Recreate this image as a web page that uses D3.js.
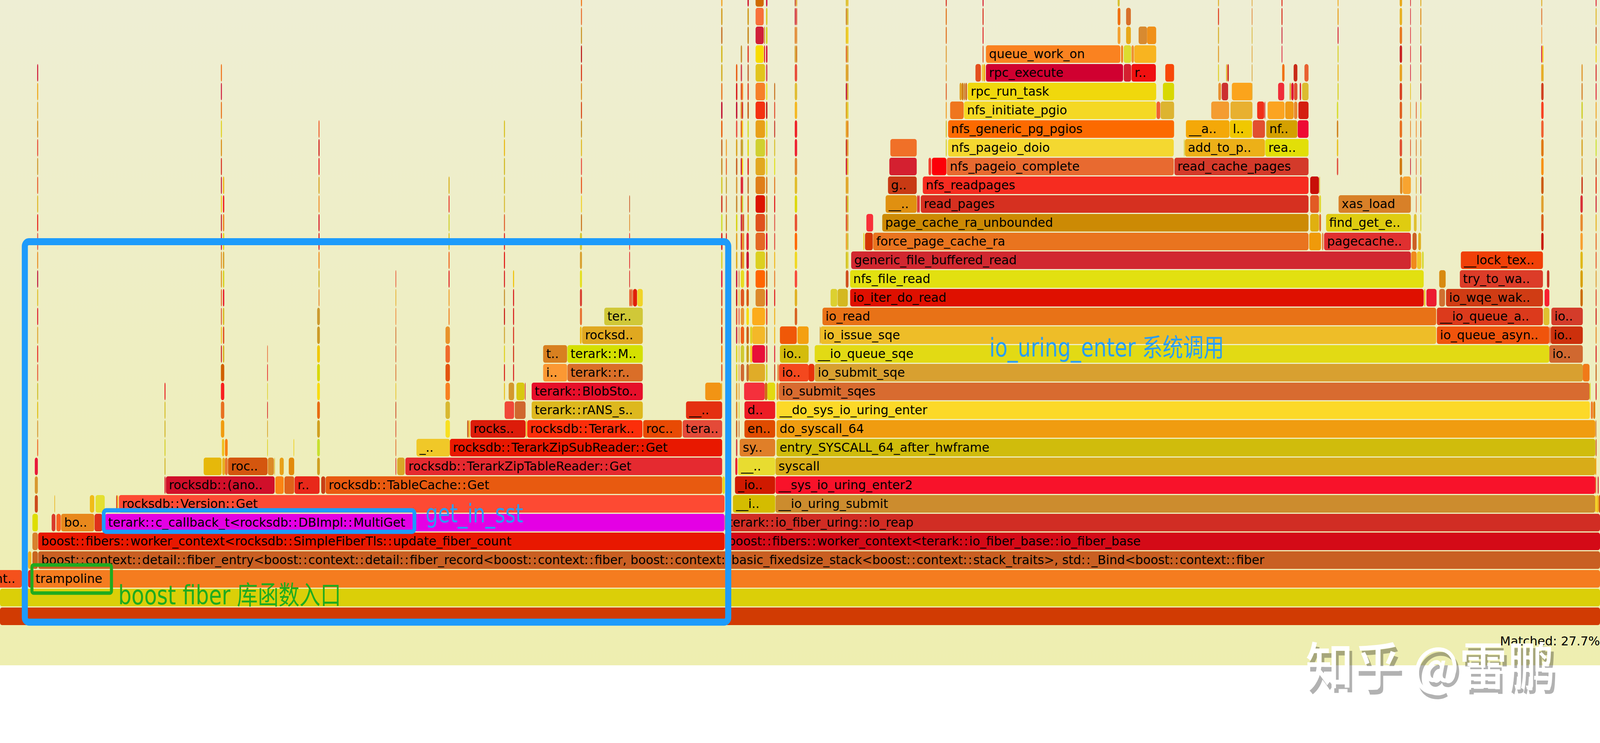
<!DOCTYPE html>
<html>
<head>
<meta charset="utf-8">
<title>flame graph</title>
<script src="https://cdn.jsdelivr.net/npm/d3@7"></script>
<style>
  html, body { margin: 0; padding: 0; background: #fff; overflow: hidden; }
  svg { display: block; width: 100vw; height: 100vh; }
  .frame-label { font-family: "DejaVu Sans"; font-size: 32px; fill: #000; }
</style>
</head>
<body>
<div id="chart"></div>
<script>
// Flame graph frames, one line per stack depth (0 is the bottom row).
// Values are sample offsets inside the zoomed window of 4737 samples.
const frameStart = [
  [0],
  [0],
  [-24, 83, 96],
  [83, 96, 113],
  [96, 113, 2146],
  [96, 153, 167, 181, 280, 311, 2146],
  [103, 161, 266, 283, 344, 347, 352, 2170, 2296, 4723, 4727, 4733],
  [103, 487, 491, 815, 842, 872, 951, 964, 2139, 2176, 2296, 4723, 4730],
  [103, 603, 658, 666, 675, 793, 812, 828, 855, 1176, 1200, 2177, 2185, 2296, 4723],
  [657, 666, 869, 1233, 1332, 2190, 2299, 4724],
  [654, 1383, 1387, 1393, 1557, 1561, 1904, 2021, 2204, 2299, 4724],
  [654, 1494, 1524, 1574, 2031, 2204, 2299, 4710, 4717],
  [654, 1506, 1529, 1554, 1574, 2088, 2135, 2203, 2264, 2272, 2299, 2306, 4706],
  [654, 1608, 1680, 2217, 2302, 2306, 2394, 2412, 4686],
  [1608, 1680, 2221, 2227, 2309, 2412, 4587],
  [1717, 1723, 2221, 2227, 2309, 2361, 2427, 2429, 4254, 4588, 4591],
  [1789, 2227, 2435, 4254, 4570, 4593],
  [1863, 1868, 1874, 1887, 2459, 2480, 2517, 4216, 4223, 4261, 4281, 4573],
  [2504, 2517, 4261, 4322, 4580],
  [2520, 4178, 4195, 4210, 4325],
  [2556, 2561, 2585, 3876, 3914, 3920, 4182, 4199],
  [2565, 2612, 3879, 3906, 3926, 4186],
  [2622, 2715, 2719, 2726, 3879, 3906, 3963],
  [2629, 2732, 3879, 3906, 4145, 4153],
  [2633, 2749, 2759, 2803, 3477],
  [2636, 2807, 3505, 3508, 3746],
  [2807, 3511, 3641, 3709, 3749, 3842],
  [2813, 2854, 3424, 3436, 3586, 3643, 3722, 3744, 3753, 3805, 3831, 3844],
  [2841, 2847, 2854, 2858, 2865, 3443, 3607, 3617, 3647, 3784, 3818, 3823, 3831, 3848, 3855],
  [2888, 2907, 2911, 2919, 3327, 3350, 3450, 3630, 3634, 3796, 3830, 3862],
  [2919, 3319, 3327, 3350, 3358],
  [3309, 3334, 3371, 3396],
  [3309, 3334],
  [3309]
];

const frameEnd = [
  [4737],
  [4737],
  [65, 95, 4737],
  [93, 112, 4737],
  [112, 2145, 4737],
  [112, 164, 180, 279, 303, 2145, 4737],
  [112, 163, 279, 310, 347, 350, 2145, 2295, 4723, 4727, 4733, 4740],
  [112, 490, 813, 840, 871, 946, 963, 2138, 2146, 2295, 4723, 4726, 4733],
  [112, 656, 666, 674, 792, 811, 814, 840, 871, 1198, 2138, 2183, 2295, 4723, 4726],
  [664, 674, 871, 1332, 2138, 2295, 4723, 4727],
  [664, 1387, 1391, 1556, 1560, 1902, 2019, 2138, 2295, 4723, 4726],
  [664, 1522, 1556, 1903, 2138, 2295, 4707, 4716, 4723],
  [664, 1522, 1553, 1556, 1903, 2135, 2138, 2264, 2272, 2295, 2305, 4706, 4709],
  [664, 1679, 1903, 2265, 2305, 2394, 2411, 4686, 4706],
  [1679, 1903, 2227, 2265, 2394, 4587, 4686],
  [1722, 1903, 2227, 2265, 2359, 2394, 2429, 4252, 4587, 4590, 4686],
  [1903, 2265, 4252, 4568, 4587, 4686],
  [1868, 1873, 1886, 1903, 2479, 2510, 4215, 4220, 4253, 4278, 4568, 4587],
  [2512, 4215, 4280, 4568, 4587],
  [4177, 4194, 4208, 4215, 4568],
  [2559, 2584, 3874, 3911, 3918, 4177, 4194, 4207],
  [2585, 3874, 3905, 3911, 4177, 4194],
  [2714, 2719, 2723, 3874, 3905, 3911, 4177],
  [2714, 3874, 3905, 3908, 4152, 4177],
  [2714, 2757, 2802, 3475, 3874],
  [2714, 3475, 3507, 3745, 3874],
  [3476, 3640, 3707, 3745, 3841, 3874],
  [2853, 3423, 3435, 3476, 3639, 3708, 3743, 3746, 3803, 3830, 3841, 3874],
  [2847, 2853, 2857, 2863, 3423, 3476, 3615, 3636, 3708, 3802, 3822, 3830, 3841, 3852, 3874],
  [2904, 2910, 2917, 3325, 3349, 3422, 3476, 3633, 3638, 3803, 3841, 3874],
  [3317, 3325, 3349, 3357, 3423],
  [3317, 3348, 3396, 3423],
  [3317, 3348],
  [3315]
];

const contextLabel = 'boost::context::detail::fiber_entry<boost::context::detail::fiber_record<boost::context::fiber, boost::context::basic_fixedsize_stack<boost::context::stack_traits>, std::_Bind<boost::context::fiber';

const frameLabel = [
  [''],
  [''],
  ['nt..', '', 'trampoline'],
  ['', '', contextLabel],
  ['', 'boost::fibers::worker_context<rocksdb::SimpleFiberTls::update_fiber_count', 'boost::fibers::worker_context<terark::io_fiber_base::io_fiber_base'],
  ['', '', '', 'bo..', '', 'terark::c_callback_t<rocksdb::DBImpl::MultiGet', 'terark::io_fiber_uring::io_reap'],
  ['', '', '', '', '', '', 'rocksdb::Version::Get', '__i..', '__io_uring_submit', '', '', ''],
  ['', '', 'rocksdb::(ano..', '', '', 'r..', '', 'rocksdb::TableCache::Get', '', '_io..', '__sys_io_uring_enter2', '', ''],
  ['', '', '', '', 'roc..', '', '', '', '', '', 'rocksdb::TerarkZipTableReader::Get', '', '__..', 'syscall', ''],
  ['', '', '', '_..', 'rocksdb::TerarkZipSubReader::Get', 'sy..', 'entry_SYSCALL_64_after_hwframe', ''],
  ['', '', '', 'rocks..', '', 'rocksdb::Terark..', 'roc..', 'tera..', 'en..', 'do_syscall_64', ''],
  ['', '', '', 'terark::rANS_s..', '__..', 'd..', '__do_sys_io_uring_enter', '', ''],
  ['', '', '', '', 'terark::BlobSto..', '', '', '', '', '', '', 'io_submit_sqes', ''],
  ['', 'i..', 'terark::r..', '', '', 'io..', '', 'io_submit_sqe', ''],
  ['t..', 'terark::M..', '', '', 'io..', '__io_queue_sqe', 'io..'],
  ['', 'rocksd..', '', '', '', '', '', 'io_issue_sqe', 'io_queue_asyn..', '', 'io..'],
  ['ter..', '', 'io_read', '__io_queue_a..', '', 'io..'],
  ['', '', '', '', '', '', 'io_iter_do_read', '', '', '', 'io_wqe_wak..', ''],
  ['', 'nfs_file_read', '', 'try_to_wa..', ''],
  ['generic_file_buffered_read', '', '', '', '__lock_tex..'],
  ['', '', 'force_page_cache_ra', '', '', 'pagecache..', '', ''],
  ['', 'page_cache_ra_unbounded', '', '', 'find_get_e..', ''],
  ['__..', '', '', 'read_pages', '', '', 'xas_load'],
  ['g..', 'nfs_readpages', '', '', '', ''],
  ['', '', '', 'nfs_pageio_complete', 'read_cache_pages'],
  ['', 'nfs_pageio_doio', '', 'add_to_p..', 'rea..'],
  ['nfs_generic_pg_pgios', '__a..', 'l..', '', 'nf..', ''],
  ['', 'nfs_initiate_pgio', '', '', '', '', '', '', '', '', '', ''],
  ['', '', '', '', 'rpc_run_task', '', '', '', '', '', '', '', '', '', ''],
  ['', '', '', 'rpc_execute', '', 'r..', '', '', '', '', '', ''],
  ['queue_work_on', '', '', '', ''],
  ['', '', '', ''],
  ['', ''],
  ['']
];

// Frame colours, same shape as the lists above
const frameFill = [
  ['#d13b03'],
  ['#dbcf08'],
  ['#f4511c', '#dd2a1e', '#f57c1f'],
  ['#f0b020', '#c8651e', '#c95f22'],
  ['#d8812e', '#e81800', '#d40a17'],
  ['#dede00', '#d8392a', '#f86020', '#e8881c', '#e0301a', '#e400e4', '#d12d24'],
  ['#cd4a1a', '#eab82a', '#f0bc18', '#e4e030', '#d84020', '#f0c020', '#fd4a33', '#d4bc00', '#cc8c2e', '#f8d820', '#f0c020', '#d06010'],
  ['#d8982f', '#e02030', '#d00f2a', '#fb8414', '#e0621a', '#e8281a', '#c83f16', '#e85a10', '#e8d820', '#d01a00', '#f8122a', '#e07030', '#d02030'],
  ['#e8183a', '#e6b80a', '#e8b020', '#e87830', '#d4560e', '#dc8a26', '#e0c030', '#e8a018', '#e28a0a', '#d8a828', '#e52a30', '#e8202a', '#e8dc30', '#d8ac18', '#f09c10'],
  ['#f0c020', '#f88010', '#f0d020', '#f0c828', '#e81800', '#e07f28', '#d0bc0c', '#d06030'],
  ['#f09c10', '#c8602a', '#f0b020', '#dc1c0a', '#e8c020', '#fb2e0a', '#e84a04', '#e44a38', '#e04c00', '#f09c10', '#c86020'],
  ['#e87020', '#f04838', '#d0682e', '#ddb81e', '#e43010', '#ec1c24', '#fcd928', '#f07a28', '#e08010'],
  ['#f82020', '#d4982c', '#d8c810', '#d83020', '#e60f2a', '#f29414', '#e8b020', '#f4303c', '#d06818', '#e2da10', '#f09030', '#d86b30', '#d8d020'],
  ['#d06000', '#fb9833', '#da6e28', '#e0ac28', '#e07020', '#f4481e', '#e8320a', '#d8a030', '#f07a18'],
  ['#d88020', '#d4e000', '#f8c820', '#e80f38', '#d4bc0c', '#e2da14', '#d06830'],
  ['#f0b818', '#e0a820', '#e0d020', '#f4b828', '#f05808', '#f4a010', '#d09020', '#eebd28', '#f0540c', '#e03010', '#cc300c'],
  ['#d0c838', '#fcac1c', '#e87217', '#dc3a1c', '#e0c030', '#d43c2a'],
  ['#e86030', '#e07040', '#e02008', '#f0d428', '#dcd030', '#d4b820', '#df1000', '#e8c020', '#ec1c30', '#d07030', '#d03c14', '#f82030'],
  ['#d05020', '#e2e010', '#d88a10', '#dc3c28', '#c83020'],
  ['#d12830', '#f08a1c', '#f0c828', '#d8d830', '#f04008'],
  ['#e8d020', '#d43602', '#e9741f', '#f09a0a', '#e08040', '#e03030', '#cc6024', '#e0b020'],
  ['#f8303a', '#cc8a04', '#e0b010', '#e06a20', '#dfcc10', '#e0c030'],
  ['#e09010', '#d83c2c', '#e03040', '#d63020', '#e25a24', '#e0d830', '#d88028'],
  ['#c83a14', '#f62c20', '#c80f08', '#e0c020', '#e08a20', '#f8a430'],
  ['#d42030', '#f04030', '#fc0008', '#e86a30', '#d43a2a'],
  ['#f07028', '#f4d830', '#d0d030', '#ecb018', '#e2df08'],
  ['#fc6a00', '#f4a808', '#f0c800', '#e25030', '#d4a000', '#ee0a34'],
  ['#ef761e', '#f4d824', '#f06030', '#ddb430', '#f49c30', '#e8b030', '#f0301a', '#d02020', '#fba420', '#f09a14', '#e88a30', '#d42010'],
  ['#e0a020', '#d08018', '#c87010', '#d06a20', '#f0d80c', '#d8d800', '#e89030', '#cc3030', '#fba41c', '#f02c38', '#e0a020', '#e01030', '#e05030', '#e02030', '#dcbc30'],
  ['#e44f1e', '#f0c020', '#f0b020', '#d00030', '#d42030', '#f01010', '#f84808', '#e0b020', '#d02018', '#f07010', '#c82a18', '#e86030'],
  ['#fa8220', '#f08020', '#dcdc30', '#f09030', '#f8b420'],
  ['#f4a030', '#e8a818', '#d88a30', '#f09018'],
  ['#f07010', '#d8702a'],
  ['#d8c030']
];

// Thin stacks too narrow to carry a name: sample range, deepest-reaching top
// depth, then one colour per frame going down from that top.
const spikeStart = [110, 654, 660, 943, 939, 487, 791, 1171, 1328, 1319, 1492, 1519, 1720, 1717, 1863,
  2135, 2149, 2179, 2187, 2193, 2197, 2200, 2193, 2213, 2210, 2237, 2237, 2262, 2268, 2292,
  2353, 2357, 2353, 2504, 2508, 2800, 2909, 3606, 3706, 3794, 3960, 3958, 4144, 4175, 4192, 4205,
  4563, 4566, 4563, 4682, 4679, 4724];
const spikeEnd = [113, 657, 664, 946, 947, 490, 793, 1173, 1331, 1332, 1495, 1522, 1723, 1723, 1865,
  2139, 2152, 2183, 2189, 2197, 2200, 2203, 2203, 2217, 2217, 2261, 2265, 2265, 2272, 2295,
  2356, 2360, 2360, 2508, 2512, 2803, 2912, 3609, 3708, 3797, 3963, 3962, 4151, 4177, 4194, 4208,
  4566, 4570, 4570, 4686, 4686, 4727];
const spikeTop = [29, 29, 23, 26, 16, 12, 14, 18, 23, 15, 26, 18, 33, 20, 22,
  33, 25, 29, 18, 30, 28, 21, 18, 33, 20, 33, 29, 31, 33, 28,
  33, 33, 29, 33, 33, 33, 33, 33, 33, 33, 33, 27, 33, 33, 27, 33,
  33, 30, 28, 29, 22, 33];
const spikeFill = [
  ['#d01838', '#f0a818', '#e0a830', '#d89020', '#e85038', '#d09830', '#e86030', '#e0b828', '#e82018', '#e06050', '#e89028', '#c01840', '#e0c030', '#e02030', '#e0a838', '#e83028', '#e86040', '#d0c030', '#e0c018', '#d8a040', '#f07030'],
  ['#f07018', '#d02040', '#e87018', '#e0d020', '#d88a10', '#d83020', '#c82040', '#f0c818', '#c82030', '#d81830', '#e09028', '#e09020', '#e87030', '#e06040', '#f0c020', '#d02828'],
  ['#f0b820', '#f02020', '#f08820', '#e8d818', '#d8a028', '#d8d020', '#e81828', '#d8b820', '#e05020', '#d8b020'],
  ['#f06030', '#d01010', '#e82020', '#d8a020', '#f09030', '#d81020', '#d81820', '#f08818', '#d0b020', '#e89038'],
  ['#cc9a30', '#cc9a28', '#f0c800', '#d8d800', '#f8dc10', '#e86a10', '#d0a020', '#c8e030', '#cfa022'],
  ['#e82828', '#d8c030', '#d4b830', '#d8d030', '#d4b830'],
  ['#e87040', '#e82020', '#e0d030', '#d82020', '#d8a020', '#e0d020'],
  ['#e85030', '#e8a820', '#f08030', '#d06020', '#d85020', '#d86020', '#e8c020', '#c83010', '#d84020', '#e06020', '#e02020'],
  ['#d8b020', '#e84030', '#d0d030', '#d8c020', '#f06018', '#e02020', '#f0a030', '#f08020'],
  ['#e8922a', '#f06a2a', '#e4540e', '#f88020', '#d8b830', '#f8e020'],
  ['#d8c020', '#e8b810', '#d0b820', '#d0b828', '#d8bc38', '#e06030', '#e02020', '#e01010', '#d82020', '#c89030', '#c81810', '#d0a838', '#e0d020', '#d82018', '#e8c020'],
  ['#f0c000', '#d81818', '#d81818', '#d83020', '#d03018', '#d82020'],
  ['#f07010', '#e87030', '#c89020', '#b81010', '#d83010', '#d89020', '#d84010', '#c89020', '#e0b820', '#e85040', '#e85018', '#f0d030', '#c87018'],
  ['#d8c830', '#d8a030', '#e4e020', '#d84030', '#e87030'],
  ['#c85020', '#e08020', '#e81020', '#e01018', '#d81818'],
  ['#f0a830', '#d4a028', '#c87a30', '#d4b820', '#d4b028', '#e88030', '#c01030', '#e86010', '#c87030', '#c89030', '#d4c830', '#d04028', '#d0dc30', '#d82020', '#d8d030', '#e02038', '#d85030', '#e06020', '#c83010', '#f07a10', '#e06030'],
  ['#f0a030', '#e86a28', '#c8a030', '#d86a30', '#c88a18', '#d82020'],
  ['#e85a10', '#d81818', '#c01030', '#e85040', '#d8a020', '#c86020', '#d89838', '#c88a30', '#d8d010', '#e0a020', '#e0a818', '#c81838', '#c81818', '#e05030', '#c83040', '#d8d020', '#d8d020', '#e0a030', '#d88020', '#c86020', '#d04040'],
  ['#d06a20', '#d8b010', '#e02020', '#e06a30', '#e8b030', '#e08030', '#e09020', '#d0c820', '#c06020'],
  ['#c89030', '#d04850', '#e05020', '#d88020', '#e06020', '#c89030', '#d02030', '#d82030', '#e05020', '#c82040', '#d82020', '#d04020'],
  ['#f88020', '#d82020', '#f8d010', '#c8b020', '#f8d800', '#e02030', '#c8d020', '#d87030', '#f0a020', '#e89010'],
  ['#d84020', '#e08030', '#e89010'],
  ['#e8dc20', '#e05820', '#e89838', '#f06018', '#d0c830', '#d06a30'],
  ['#d01830', '#d09c20', '#c88a20', '#e04830', '#c87040', '#e05030', '#c86018', '#d8dc30', '#e0d810', '#e03020', '#c87830', '#e06020', '#e0b820'],
  ['#e02838', '#c80a30', '#f05030', '#d85c10', '#f8dc00', '#cc6018', '#c8a018', '#c87030'],
  ['#d06a00', '#f8703a', '#d01f38', '#f8dc00'],
  ['#e2c41c', '#f68028', '#f43010', '#e8a018', '#d0d030', '#e2a820', '#e07e18', '#dc1400', '#e0501c', '#e46824', '#dcd020', '#ff6600', '#dc882a'],
  ['#d09830', '#e02020'],
  ['#d01040', '#d8c820', '#d0d010', '#d00a30', '#d04858', '#e8e030', '#b81818', '#e0e030', '#f08040', '#e8d830', '#d87a20', '#c09030', '#c89030', '#e00020', '#d87a18', '#c06010', '#d00a20', '#e05030', '#c09030', '#d83040', '#d0d020'],
  ['#c87020', '#e05030', '#c84030', '#d8c030', '#e0e020', '#e07820', '#e00f10', '#e06050', '#e05040', '#f0b820', '#e88030', '#e01818', '#f0b020', '#f0b820', '#e02838', '#c84020'],
  ['#c84020', '#c81830', '#e07010', '#d09010'],
  ['#e0a020', '#e04030', '#e08020', '#d06a00'],
  ['#e84a38', '#e0bc30', '#f4b820', '#ee2028', '#ee2030', '#e08830', '#e0bc28', '#dcd808', '#e85030', '#ff6600', '#f0d820', '#f84838', '#e0b020', '#d86020'],
  ['#d8c030', '#d08a30', '#e8c020', '#e07030', '#e0a020', '#c01838', '#e0a020', '#e8a020', '#c83020', '#d01830', '#e0a020', '#d86030', '#e05030', '#f0a030', '#d0c020'],
  ['#e8c030', '#d8c030', '#f0d020', '#d8b030', '#d8a030', '#d8b030', '#e0d030', '#e08a20', '#e0a030', '#e0c030', '#e0a828', '#d0c020', '#d8a030', '#d0c030', '#e0d030'],
  ['#d83020', '#e07018', '#e07020', '#e0a040', '#e8a040', '#e06a30', '#f0a030', '#d0c030', '#d8d030'],
  ['#d81830', '#d83020', '#e03030', '#e06030'],
  ['#e0b030', '#e04020', '#d8b030', '#e0a030', '#e0d030'],
  ['#e0a030', '#e08030', '#d8b030', '#e0a030', '#d8a030', '#e0b040'],
  ['#e03020', '#d83020', '#d04050', '#e05060'],
  ['#f0b030', '#e8a020', '#d83040', '#d8d030', '#e8b820', '#d8d020'],
  ['#d8dc30', '#d08018', '#e8c020', '#e05040'],
  ['#e8a818', '#e8b020', '#e87820', '#c82020', '#e8a020', '#d84020', '#e06020', '#e87020', '#e05030', '#d07810'],
  ['#d82030', '#d83040', '#e03040', '#e02838', '#d82040', '#e8c020', '#e8a020', '#e88020', '#e05020', '#c81830'],
  ['#e05020', '#f08020', '#d87020', '#e06030', '#e0a020', '#e07030'],
  ['#e0b030', '#e09020', '#d8a838', '#d83020', '#e07020', '#c83020', '#e8d020', '#e06018', '#e09030', '#e0b020', '#d04030', '#f0c020', '#e0d030'],
  ['#e0b030', '#e08040', '#f0b060', '#d82040', '#f0a020'],
  ['#f8d030', '#e0b020'],
  ['#d04020', '#f84020', '#f06030', '#e07810', '#f89010', '#cc5a10', '#e0a030', '#d8601c', '#c81a08'],
  ['#e0a040', '#d89040', '#d0d030', '#e0a050', '#d8a830', '#e0b050', '#c83818'],
  ['#d83238', '#e88a30', '#f8a030', '#e0b818', '#d8a000', '#cc6c00'],
  ['#e03040', '#e0b830', '#c86030', '#f0d020', '#d83030', '#e03040', '#f0a830', '#d89028', '#cce030', '#c86028', '#e02008', '#d02030', '#e8b020', '#e86a28', '#e86030', '#e0a040', '#e05030', '#d02018', '#e88a30', '#d82020', '#c86020', '#d83030']
];

const matchedText = 'Matched: 27.7%';

function drawChart() {
  const width = 4737, height = 1903, pageBottom = 1704;
  const frameHeight = 45;
  const textStretch = 1.137;

  const x = d3.scaleLinear().domain([0, 4737]).range([0, width]);
  const y = d3.scaleLinear().domain([0, 33]).range([1556, 1556 - 33 * 48]);

  // the drawing always fills the window
  const svg = d3.select('#chart').append('svg')
    .attr('viewBox', `0 0 ${width} ${height}`)
    .attr('preserveAspectRatio', 'none');

  const grad = svg.append('defs').append('linearGradient')
    .attr('id', 'bg').attr('x1', 0).attr('x2', 0).attr('y1', 0).attr('y2', 1);
  grad.append('stop').attr('offset', '0%').attr('stop-color', '#eeeed4');
  grad.append('stop').attr('offset', '100%').attr('stop-color', '#eeeeb0');

  svg.append('rect')
    .attr('width', width)
    .attr('height', pageBottom)
    .attr('fill', 'url(#bg)');

  // flatten the per-depth lists
  const frames = [];
  frameStart.forEach((row, depth) => {
    row.forEach((start, i) => {
      frames.push({
        depth: depth,
        start: start,
        end: frameEnd[depth][i],
        label: frameLabel[depth][i],
        fill: frameFill[depth][i]
      });
    });
  });
  spikeStart.forEach((start, i) => {
    spikeFill[i].forEach((fill, k) => {
      frames.push({
        depth: spikeTop[i] - k,
        start: start,
        end: spikeEnd[i],
        label: '',
        fill: fill
      });
    });
  });

  svg.append('g').selectAll('rect')
    .data(frames)
    .join('rect')
    .attr('x', d => x(d.start))
    .attr('y', d => y(d.depth))
    .attr('width', d => x(d.end) - x(d.start))
    .attr('height', frameHeight)
    .attr('rx', 6)
    .attr('ry', 6)
    .attr('fill', d => d.fill);

  // colons run a little wider in the original font
  const colonGap = label => [...label].map((c, i) => (i > 0 && label[i - 1] === ':' ? 2.6 : 0)).join(' ');

  svg.append('g').selectAll('text')
    .data(frames.filter(d => d.label))
    .join('text')
    .attr('class', 'frame-label')
    .attr('transform', d => `translate(${x(d.start) + 9},${y(d.depth) + 33}) scale(${textStretch},1)`)
    .attr('dx', d => colonGap(d.label))
    .text(d => d.label);

  svg.append('text')
    .attr('class', 'frame-label')
    .attr('transform', `translate(4441,1653) scale(${textStretch},1)`)
    .text(matchedText);

  // annotation boxes drawn over the graph
  const boxes = [
    { x0: 73.5, y0: 619, x1: 2156, y1: 1593.5, stroke: '#1d9bfb', sw: 18, r: 12 },
    { x0: 307, y0: 1307, x1: 1227, y1: 1362, stroke: '#1d9bfb', sw: 11, r: 8 },
    { x0: 94.5, y0: 1447, x1: 330, y1: 1519, stroke: '#1fab1f', sw: 9, r: 5 }
  ];
  svg.append('g').selectAll('rect')
    .data(boxes)
    .join('rect')
    .attr('x', d => d.x0)
    .attr('y', d => d.y0)
    .attr('width', d => d.x1 - d.x0)
    .attr('height', d => d.y1 - d.y0)
    .attr('rx', d => d.r)
    .attr('fill', 'none')
    .attr('stroke', d => d.stroke)
    .attr('stroke-width', d => d.sw);

  const notes = [
    { text: 'boost fiber 库函数入口', x: 350, y: 1548, w: 660, size: 67, fill: '#1fab1f' },
    { text: 'get_in_sst', x: 1260, y: 1338, w: 289, size: 65, fill: '#2a9df4' },
    { text: 'io_uring_enter 系统调用', x: 2929, y: 913, w: 695, size: 65, fill: '#2a9df4' }
  ];
  svg.append('g').selectAll('text')
    .data(notes)
    .join('text')
    .attr('x', d => d.x)
    .attr('y', d => d.y)
    .attr('textLength', d => d.w)
    .attr('lengthAdjust', 'spacingAndGlyphs')
    .attr('font-family', '"DejaVu Sans", "Noto Sans CJK SC"')
    .attr('font-size', d => d.size)
    .attr('fill', d => d.fill)
    .text(d => d.text);

  // watermark, white with a soft offset shadow
  const mark = [
    { dx: 8, dy: 12, fill: 'rgba(0,0,0,0.3)' },
    { dx: 0, dy: 0, fill: '#fff' }
  ];
  svg.append('g').selectAll('text')
    .data(mark)
    .join('text')
    .attr('x', d => 3865 + d.dx)
    .attr('y', d => 1755 + d.dy)
    .attr('textLength', 740)
    .attr('lengthAdjust', 'spacingAndGlyphs')
    .attr('font-family', '"Noto Sans CJK SC"')
    .attr('font-weight', 500)
    .attr('font-size', 132)
    .attr('fill', d => d.fill)
    .text('知乎 @雷鹏');
}

drawChart();
</script>
</body>
</html>
